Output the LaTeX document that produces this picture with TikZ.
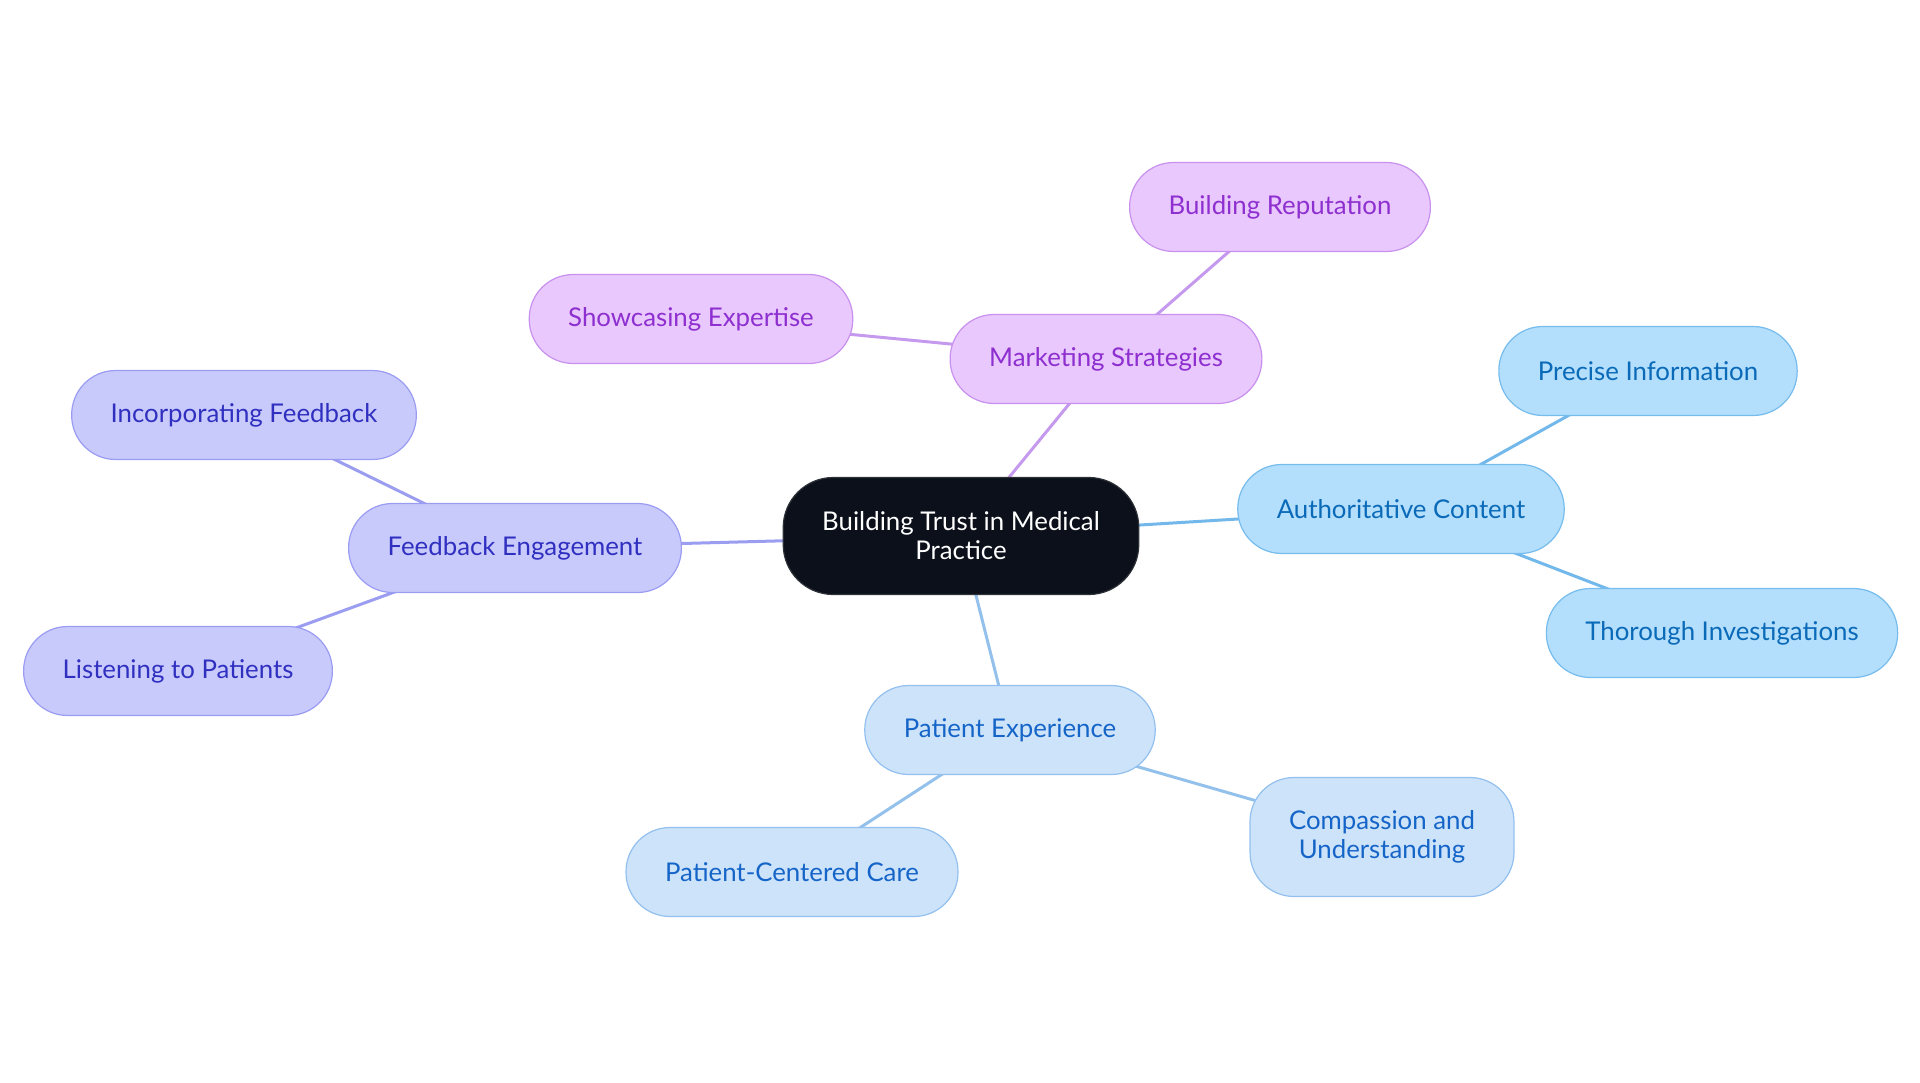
\documentclass[tikz,border=0pt]{standalone}
\usepackage{fontspec}
\setmainfont{Lato}
\usetikzlibrary{positioning, backgrounds}

\definecolor{rootfill}{HTML}{0B101A}
\definecolor{purplefill}{HTML}{E9C8FD}
\definecolor{purpledraw}{HTML}{C891EE}
\definecolor{purpletext}{HTML}{8E2FD0}
\definecolor{purpleline}{HTML}{C59AEE}
\definecolor{skyfill}{HTML}{B3DEFC}
\definecolor{skydraw}{HTML}{76BCEC}
\definecolor{skytext}{HTML}{0A6AB8}
\definecolor{skyline}{HTML}{73B8EA}
\definecolor{palefill}{HTML}{CDE3FA}
\definecolor{paledraw}{HTML}{93C0EE}
\definecolor{paletext}{HTML}{1565C8}
\definecolor{paleline}{HTML}{94C1EC}
\definecolor{violetfill}{HTML}{C9CAFC}
\definecolor{violetdraw}{HTML}{9A9CF2}
\definecolor{violettext}{HTML}{3030C0}
\definecolor{violetline}{HTML}{9A9DF0}

\begin{document}
\begin{tikzpicture}[
    x=1pt, y=-1pt,
    font=\fontsize{25.8}{29}\selectfont,
    pill/.style={rounded corners=44pt, minimum height=89pt, inner xsep=39pt, align=center, line width=1.2pt},
    root/.style={pill, fill=rootfill, draw=rootfill!70!gray, text=white, minimum height=117pt, rounded corners=50pt},
    purplebox/.style={pill, fill=purplefill, draw=purpledraw, text=purpletext},
    skybox/.style={pill, fill=skyfill, draw=skydraw, text=skytext},
    palebox/.style={pill, fill=palefill, draw=paledraw, text=paletext},
    violetbox/.style={pill, fill=violetfill, draw=violetdraw, text=violettext},
    link/.style={line width=3pt}
]
    \useasboundingbox (0,0) rectangle (1920,1083);

    % === Root ===
    \node[root] (trust) at (961,536) {Building Trust in Medical\\Practice};

    % === Marketing branch ===
    \node[purplebox] (marketing) at (1106,359) {Marketing Strategies};
    \node[purplebox] (reputation) at (1280,207) {Building Reputation};
    \node[purplebox] (expertise) at (691,319) {Showcasing Expertise};

    % === Authoritative branch ===
    \node[skybox] (content) at (1401,509) {Authoritative Content};
    \node[skybox] (precise) at (1648,371) {Precise Information};
    \node[skybox] (thorough) at (1722,633) {Thorough Investigations};

    % === Patient branch ===
    \node[palebox] (experience) at (1010,730) {Patient Experience};
    \node[palebox, minimum height=119pt] (compassion) at (1382,837) {Compassion and\\Understanding};
    \node[palebox] (centered) at (792,872) {Patient-Centered Care};

    % === Feedback branch ===
    \node[violetbox] (feedback) at (515,548) {Feedback Engagement};
    \node[violetbox] (incorporate) at (244,415) {Incorporating Feedback};
    \node[violetbox] (listening) at (178,671) {Listening to Patients};

    % === Connectors (centre to centre, hidden under the fills) ===
    \begin{scope}[on background layer]
        \draw[link, purpleline] (trust.center) -- (marketing.center);
        \draw[link, purpleline] (marketing.center) -- (reputation.center);
        \draw[link, purpleline] (marketing.center) -- (expertise.center);
        \draw[link, skyline] (trust.center) -- (content.center);
        \draw[link, skyline] (content.center) -- (precise.center);
        \draw[link, skyline] (content.center) -- (thorough.center);
        \draw[link, paleline] (trust.center) -- (experience.center);
        \draw[link, paleline] (experience.center) -- (compassion.center);
        \draw[link, paleline] (experience.center) -- (centered.center);
        \draw[link, violetline] (trust.center) -- (feedback.center);
        \draw[link, violetline] (feedback.center) -- (incorporate.center);
        \draw[link, violetline] (feedback.center) -- (listening.center);
    \end{scope}

\end{tikzpicture}
\end{document}
